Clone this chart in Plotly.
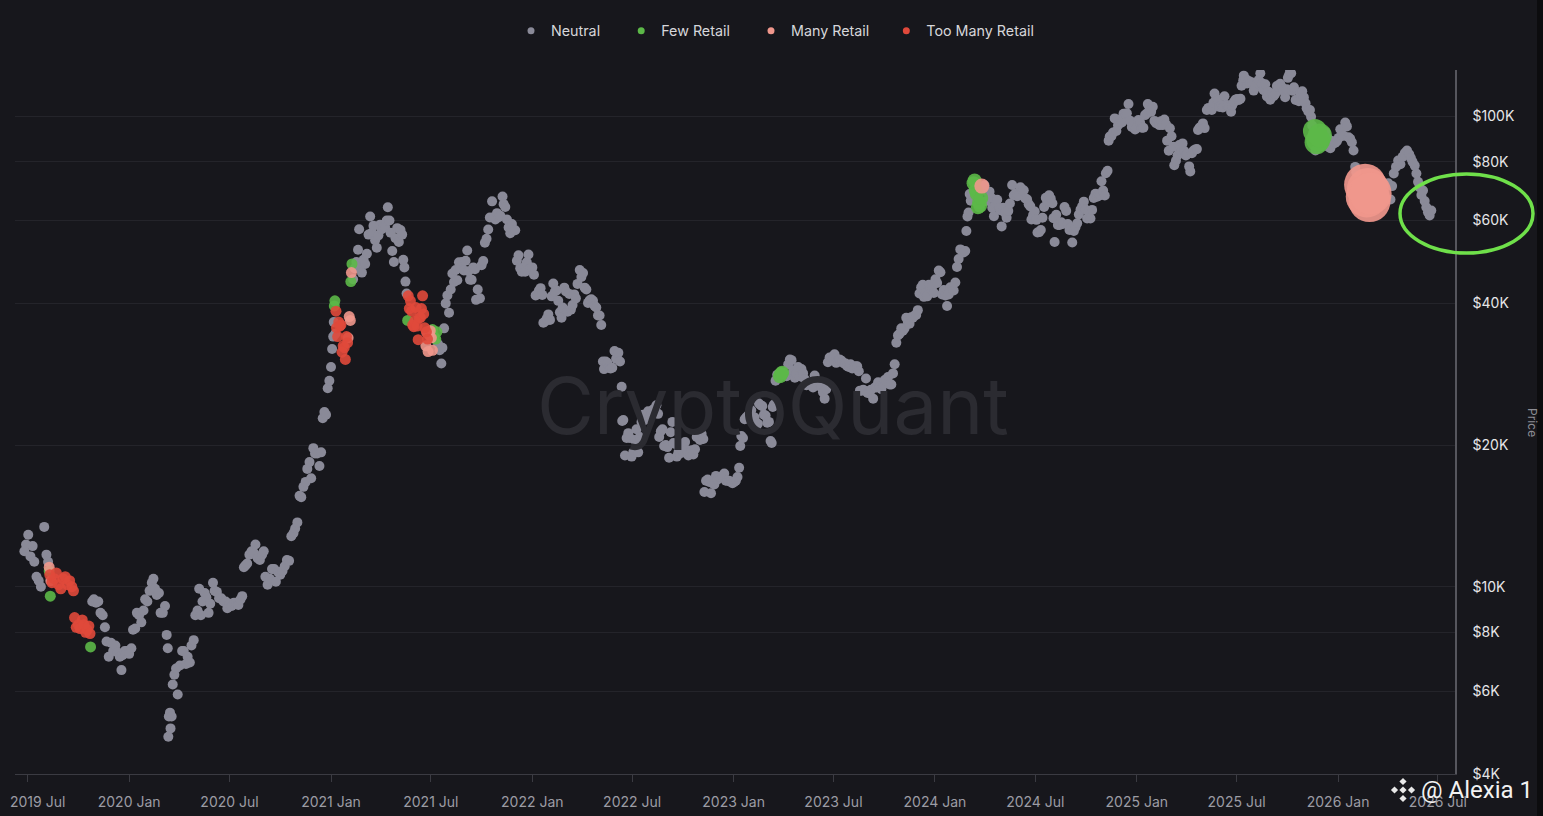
import plotly.graph_objects as go

# ---------------- data ----------------
neutral_points = [
    ("2019-06-25",11900),("2019-06-28",12300),("2019-07-02",12900),("2019-07-06",11600),("2019-07-10",12200),
    ("2019-07-13",11300),("2019-07-17",10500),("2019-07-21",10300),("2019-07-25",10000),("2019-07-31",13400),
    ("2019-08-04",11700),("2019-08-07",11300),
    ("2019-10-26",9300),("2019-10-29",9400),("2019-11-02",9250),("2019-11-06",9300),("2019-11-10",8800),
    ("2019-11-14",8700),("2019-11-18",8200),("2019-11-21",7650),("2019-11-25",7100),("2019-11-29",7600),
    ("2019-12-03",7300),("2019-12-07",7500),("2019-12-11",7250),("2019-12-15",7100),("2019-12-18",6650),
    ("2019-12-20",7150),("2019-12-24",7300),("2019-12-28",7300),
    ("2020-01-01",7200),("2020-01-05",7400),("2020-01-08",8100),("2020-01-12",8150),("2020-01-15",8800),
    ("2020-01-19",8700),("2020-01-23",8400),("2020-01-27",8900),("2020-01-30",9400),("2020-02-03",9300),
    ("2020-02-07",9800),("2020-02-11",10200),("2020-02-14",10400),("2020-02-17",9900),("2020-02-20",9600),
    ("2020-02-24",9700),("2020-02-27",8800),("2020-03-02",8800),("2020-03-06",9100),("2020-03-09",7900),
    ("2020-03-11",7400),("2020-03-12",4800),("2020-03-13",5300),("2020-03-15",5400),("2020-03-16",5000),
    ("2020-03-18",5300),("2020-03-20",6200),("2020-03-23",6500),("2020-03-26",6700),("2020-03-29",5900),
    ("2020-04-02",6800),("2020-04-06",7300),("2020-04-09",7300),("2020-04-13",6850),("2020-04-16",7100),
    ("2020-04-20",6900),("2020-04-23",7500),("2020-04-27",7700),("2020-04-30",8700),("2020-05-04",8900),
    ("2020-05-07",9900),("2020-05-10",8700),("2020-05-13",9300),("2020-05-17",9700),("2020-05-20",9500),
    ("2020-05-24",8800),("2020-05-27",9200),("2020-06-01",10200),("2020-06-04",9800),("2020-06-08",9750),
    ("2020-06-12",9450),("2020-06-16",9450),("2020-06-20",9300),("2020-06-24",9300),("2020-06-27",9000),
    ("2020-07-01",9200),("2020-07-05",9100),("2020-07-09",9250),("2020-07-13",9250),("2020-07-17",9150),
    ("2020-07-21",9400),("2020-07-24",9550),("2020-07-27",11000),("2020-07-30",11100),("2020-08-02",11200),
    ("2020-08-06",11700),("2020-08-10",11900),("2020-08-14",11800),("2020-08-17",12300),("2020-08-21",11500),
    ("2020-08-25",11400),("2020-08-29",11700),("2020-09-01",11900),("2020-09-04",10500),("2020-09-08",10100),
    ("2020-09-12",10400),("2020-09-16",10900),("2020-09-20",10900),("2020-09-23",10250),("2020-09-27",10750),
    ("2020-10-01",10600),("2020-10-05",10800),("2020-10-09",11050),("2020-10-13",11400),("2020-10-17",11350),
    ("2020-10-21",12800),("2020-10-25",13000),("2020-10-28",13300),("2020-11-01",13700),("2020-11-05",15600),
    ("2020-11-08",15500),("2020-11-12",16300),("2020-11-16",16700),("2020-11-19",17800),("2020-11-23",18400),
    ("2020-11-26",17000),("2020-11-30",19700),("2020-12-03",19200),("2020-12-07",19200),("2020-12-11",18050),
    ("2020-12-14",19300),("2020-12-17",22800),("2020-12-20",23500),("2020-12-23",23200),("2020-12-26",26400),
    ("2020-12-29",27400),("2021-01-01",29300),("2021-01-03",32000),("2021-01-05",34000),("2021-01-06",36500),
    ("2021-01-09",34500),
    ("2021-02-10",45000),("2021-02-13",47500),("2021-02-16",49000),("2021-02-19",52000),("2021-02-21",57500),
    ("2021-02-23",48500),("2021-02-26",46500),("2021-03-01",49500),("2021-03-04",48500),("2021-03-07",51000),
    ("2021-03-10",56000),("2021-03-13",61200),("2021-03-16",56500),("2021-03-19",58500),("2021-03-22",54500),
    ("2021-03-25",52500),("2021-03-28",55800),("2021-03-31",58800),("2021-04-03",57500),("2021-04-06",58100),
    ("2021-04-09",58100),("2021-04-12",60000),("2021-04-14",64000),("2021-04-17",60000),("2021-04-19",56500),
    ("2021-04-22",51700),("2021-04-25",49000),("2021-04-28",55000),("2021-05-01",57800),("2021-05-04",54000),
    ("2021-05-07",57300),("2021-05-10",56000),("2021-05-12",49500),("2021-05-14",47700),("2021-05-16",44500),
    ("2021-05-18",42000),
    ("2021-07-14",32800),("2021-07-17",31800),("2021-07-20",29800),("2021-07-22",32200),("2021-07-25",35400),
    ("2021-07-28",40000),("2021-07-31",41600),("2021-08-03",38200),("2021-08-06",42800),("2021-08-09",46300),
    ("2021-08-12",44400),("2021-08-15",47100),("2021-08-18",44800),("2021-08-21",48900),("2021-08-24",47700),
    ("2021-08-27",49000),("2021-08-30",47000),("2021-09-02",49300),("2021-09-05",51800),("2021-09-07",46800),
    ("2021-09-10",44900),("2021-09-13",44900),("2021-09-16",47700),("2021-09-19",47300),("2021-09-21",40700),
    ("2021-09-24",42800),("2021-09-28",41000),("2021-10-01",48200),("2021-10-04",49200),("2021-10-07",53800),
    ("2021-10-10",54900),("2021-10-13",57400),("2021-10-16",60900),("2021-10-20",65900),("2021-10-23",61000),
    ("2021-10-26",60300),("2021-10-29",62200),("2021-11-01",61000),("2021-11-04",61400),("2021-11-08",67500),
    ("2021-11-10",65000),("2021-11-13",64100),("2021-11-16",60300),("2021-11-19",58000),("2021-11-22",56400),
    ("2021-11-25",59000),("2021-11-28",57200),("2021-12-01",57200),("2021-12-04",49300),("2021-12-07",50600),
    ("2021-12-10",47500),("2021-12-13",46700),("2021-12-16",47600),("2021-12-19",46700),("2021-12-22",48900),
    ("2021-12-25",50800),("2021-12-28",47500),
    ("2022-01-01",47700),("2022-01-04",46000),("2022-01-07",41600),("2022-01-10",41800),("2022-01-13",42600),
    ("2022-01-16",43100),("2022-01-19",41700),("2022-01-21",36400),("2022-01-24",36600),("2022-01-27",37100),
    ("2022-01-30",37900),("2022-02-02",36900),("2022-02-05",41400),("2022-02-08",44100),("2022-02-11",42400),
    ("2022-02-14",42600),("2022-02-17",40500),("2022-02-20",38300),("2022-02-23",37300),("2022-02-25",39200),
    ("2022-02-28",43200),("2022-03-03",42400),("2022-03-06",38400),("2022-03-09",41900),("2022-03-12",38800),
    ("2022-03-15",39700),("2022-03-18",41800),("2022-03-21",41000),("2022-03-24",44000),("2022-03-28",47100),
    ("2022-03-31",45500),("2022-04-03",46400),("2022-04-06",43200),("2022-04-09",42800),("2022-04-12",40100),
    ("2022-04-15",40600),("2022-04-18",40800),("2022-04-21",40500),("2022-04-24",39500),("2022-04-27",39200),
    ("2022-04-30",37700),("2022-05-03",37700),("2022-05-06",36000),("2022-05-09",30100),("2022-05-11",29000),
    ("2022-05-14",30100),("2022-05-17",29900),("2022-05-20",29200),("2022-05-23",29100),("2022-05-26",29200),
    ("2022-05-30",31700),("2022-06-02",30500),("2022-06-06",31400),("2022-06-09",30100),("2022-06-12",26600),
    ("2022-06-13",22500),("2022-06-15",22600),("2022-06-18",19000),("2022-06-21",20700),("2022-06-24",21200),
    ("2022-06-27",20700),("2022-06-30",18900),("2022-07-03",19300),("2022-07-06",20500),("2022-07-09",21600),
    ("2022-07-12",19300),("2022-07-15",20800),("2022-07-18",22400),("2022-07-21",23200),("2022-07-24",22600),
    ("2022-07-27",22900),("2022-07-30",23600),("2022-08-02",23000),("2022-08-05",23300),("2022-08-08",23800),
    ("2022-08-11",23900),("2022-08-14",24300),("2022-08-17",23300),("2022-08-19",20800),("2022-08-22",21400),
    ("2022-08-25",21600),("2022-08-28",19900),("2022-08-31",20000),("2022-09-03",19800),("2022-09-06",18800),
    ("2022-09-09",21300),("2022-09-12",22400),("2022-09-14",20200),("2022-09-17",20100),("2022-09-20",18900),
    ("2022-09-23",19300),("2022-09-26",19200),("2022-09-29",19600),("2022-10-02",19300),("2022-10-05",20300),
    ("2022-10-08",19500),("2022-10-11",19000),("2022-10-14",19200),("2022-10-17",19500),("2022-10-20",19100),
    ("2022-10-23",19600),("2022-10-26",20800),("2022-10-29",20800),("2022-11-01",20500),("2022-11-04",21100),
    ("2022-11-07",20600),("2022-11-09",15900),("2022-11-12",16800),("2022-11-15",16900),("2022-11-18",16700),
    ("2022-11-21",15800),("2022-11-24",16600),("2022-11-27",16500),("2022-11-30",17200),("2022-12-03",16900),
    ("2022-12-06",17100),("2022-12-09",17100),("2022-12-12",17200),("2022-12-15",17400),("2022-12-18",16800),
    ("2022-12-21",16800),("2022-12-24",16800),("2022-12-27",16700),("2022-12-30",16600),
    ("2023-01-02",16700),("2023-01-05",16800),("2023-01-08",17100),("2023-01-11",17900),("2023-01-13",19900),
    ("2023-01-15",20900),("2023-01-18",20700),("2023-01-21",22700),("2023-01-24",22900),("2023-01-27",23100),
    ("2023-01-30",22800),("2023-02-02",23700),("2023-02-05",22900),("2023-02-08",22900),("2023-02-11",21900),
    ("2023-02-14",22200),("2023-02-16",24500),("2023-02-19",24300),("2023-02-22",24200),("2023-02-25",23200),
    ("2023-02-28",23100),("2023-03-03",22300),("2023-03-06",22400),("2023-03-09",20400),("2023-03-11",20200),
    ("2023-03-13",24100),("2023-03-15",24400),("2023-03-18",27400),("2023-03-21",28200),("2023-03-24",27800),
    ("2023-04-01",28500),("2023-04-04",28200),("2023-04-07",28000),("2023-04-10",29700),("2023-04-13",30400),
    ("2023-04-16",30300),("2023-04-19",28800),("2023-04-22",27800),("2023-04-25",28300),("2023-04-28",29300),
    ("2023-05-01",28000),("2023-05-04",29000),("2023-05-07",28400),("2023-05-10",27600),("2023-05-13",26800),
    ("2023-05-16",27000),("2023-05-19",26900),("2023-05-22",26800),("2023-05-25",26500),("2023-05-28",28100),
    ("2023-05-31",27200),("2023-06-03",27200),("2023-06-06",27200),("2023-06-09",26500),("2023-06-12",25900),
    ("2023-06-15",25100),("2023-06-18",26300),("2023-06-21",30000),("2023-06-24",30700),("2023-06-27",30700),
    ("2023-06-30",30500),("2023-07-03",31200),("2023-07-06",29900),("2023-07-09",30200),("2023-07-12",30400),
    ("2023-07-14",30300),("2023-07-17",30100),("2023-07-20",29800),("2023-07-23",29800),("2023-07-26",29400),
    ("2023-07-29",29300),("2023-08-01",29700),("2023-08-04",29100),("2023-08-07",29200),("2023-08-10",29400),
    ("2023-08-13",29400),("2023-08-16",28700),("2023-08-18",26100),("2023-08-21",26100),("2023-08-24",26200),
    ("2023-08-27",26100),("2023-08-29",27700),("2023-09-01",25800),("2023-09-04",25800),("2023-09-07",26200),
    ("2023-09-11",25100),("2023-09-14",26500),("2023-09-17",26500),("2023-09-20",27200),("2023-09-23",26600),
    ("2023-09-26",26300),("2023-09-29",26900),("2023-10-02",27500),("2023-10-05",27400),("2023-10-08",27900),
    ("2023-10-11",26900),("2023-10-14",26900),("2023-10-17",28400),("2023-10-20",29700),("2023-10-23",33000),
    ("2023-10-26",34200),("2023-10-29",34500),("2023-11-01",35400),("2023-11-04",35000),("2023-11-07",35400),
    ("2023-11-10",37300),("2023-11-13",36500),("2023-11-16",36200),("2023-11-19",37400),("2023-11-22",37300),
    ("2023-11-25",37700),("2023-11-28",37800),("2023-12-01",38700),("2023-12-04",42000),("2023-12-07",43300),
    ("2023-12-10",43800),("2023-12-12",41300),("2023-12-15",42000),("2023-12-18",41400),("2023-12-21",43800),
    ("2023-12-24",43000),("2023-12-27",43400),("2023-12-30",42100),
    ("2024-01-02",45000),("2024-01-05",44200),("2024-01-08",47000),("2024-01-11",46600),("2024-01-14",41800),
    ("2024-01-17",42700),("2024-01-20",41600),("2024-01-23",39500),("2024-01-26",41800),("2024-01-29",43300),
    ("2024-02-01",43100),("2024-02-04",42600),("2024-02-07",44300),("2024-02-10",47800),("2024-02-13",49700),
    ("2024-02-16",52100),("2024-02-19",51800),("2024-02-22",51300),("2024-02-25",51700),("2024-02-27",57000),
    ("2024-02-29",61200),("2024-03-02",62400),("2024-03-04",68300),("2024-03-06",66100),("2024-03-08",68300),
    ("2024-03-28",70800),("2024-03-31",71300),("2024-04-03",66000),("2024-04-06",68900),("2024-04-09",69100),
    ("2024-04-12",67100),("2024-04-14",63900),("2024-04-17",61300),("2024-04-20",64900),("2024-04-23",66400),
    ("2024-04-26",63800),("2024-04-29",63100),("2024-05-01",58300),("2024-05-04",63900),("2024-05-07",62300),
    ("2024-05-10",60800),("2024-05-13",62900),("2024-05-16",65200),("2024-05-20",71400),("2024-05-23",67900),
    ("2024-05-26",68500),("2024-05-29",67600),("2024-06-01",67800),("2024-06-04",70600),("2024-06-07",69300),
    ("2024-06-10",69600),("2024-06-13",66800),("2024-06-16",66600),("2024-06-19",65000),("2024-06-22",64300),
    ("2024-06-24",60300),("2024-06-27",61600),("2024-06-30",62700),("2024-07-03",60200),("2024-07-05",56600),
    ("2024-07-08",56700),("2024-07-11",57300),("2024-07-14",60800),("2024-07-17",64100),("2024-07-20",67100),
    ("2024-07-23",65900),("2024-07-26",67900),("2024-07-29",66800),("2024-08-01",65300),("2024-08-03",60700),
    ("2024-08-05",54000),("2024-08-08",61700),("2024-08-11",58700),("2024-08-14",58700),("2024-08-17",59500),
    ("2024-08-20",59000),("2024-08-23",64100),("2024-08-26",62900),("2024-08-29",59000),("2024-09-01",57300),
    ("2024-09-04",58000),("2024-09-06",53900),("2024-09-09",57000),("2024-09-12",58100),("2024-09-15",59200),
    ("2024-09-18",61800),("2024-09-21",63300),("2024-09-24",64300),("2024-09-27",65800),("2024-09-30",63300),
    ("2024-10-03",60600),("2024-10-06",62800),("2024-10-09",60600),("2024-10-12",63200),("2024-10-15",67000),
    ("2024-10-18",68400),("2024-10-21",67400),("2024-10-24",68200),("2024-10-27",67900),("2024-10-29",72700),
    ("2024-11-01",69500),("2024-11-04",67800),("2024-11-06",75600),("2024-11-09",76500),("2024-11-11",88700),
    ("2024-11-13",90500),("2024-11-16",90600),("2024-11-19",92300),("2024-11-22",98900),("2024-11-25",93000),
    ("2024-11-28",95600),("2024-12-01",97200),("2024-12-04",98700),("2024-12-05",96900),("2024-12-08",101200),
    ("2024-12-11",101100),("2024-12-14",101400),("2024-12-17",106100),("2024-12-20",97800),("2024-12-23",94800),
    ("2024-12-26",95800),("2024-12-29",93700),
    ("2025-01-01",94400),("2025-01-04",98100),("2025-01-07",96900),("2025-01-10",94500),("2025-01-13",94500),
    ("2025-01-16",100500),("2025-01-19",101300),("2025-01-21",106100),("2025-01-24",104700),("2025-01-27",102100),
    ("2025-01-30",104700),("2025-02-02",97700),("2025-02-05",96600),("2025-02-08",96500),("2025-02-11",95700),
    ("2025-02-14",97500),("2025-02-17",95700),("2025-02-20",98300),("2025-02-23",96100),("2025-02-25",88700),
    ("2025-02-28",84400),("2025-03-02",94200),("2025-03-05",90600),("2025-03-08",86100),("2025-03-10",78600),
    ("2025-03-13",80400),("2025-03-16",82600),("2025-03-19",86800),("2025-03-22",84000),("2025-03-25",87500),
    ("2025-03-28",84300),("2025-03-31",82500),("2025-04-03",83100),("2025-04-06",78200),("2025-04-08",76300),
    ("2025-04-11",83400),("2025-04-14",84500),("2025-04-17",84900),("2025-04-20",85100),("2025-04-22",93400),
    ("2025-04-25",94600),("2025-04-28",95000),("2025-05-01",96500),("2025-05-04",94300),("2025-05-08",103000),
    ("2025-05-11",104100),("2025-05-14",103500),("2025-05-17",103100),("2025-05-20",106800),("2025-05-22",111700),
    ("2025-05-25",109000),("2025-05-28",107800),("2025-05-31",104600),("2025-06-03",105400),("2025-06-06",104300),
    ("2025-06-09",110200),("2025-06-12",105600),("2025-06-15",105500),("2025-06-18",104800),("2025-06-21",102200),
    ("2025-06-23",105400),("2025-06-26",107100),("2025-06-29",108400),("2025-07-02",108800),("2025-07-05",108200),
    ("2025-07-08",108900),("2025-07-10",116000),("2025-07-13",119100),("2025-07-14",121900),("2025-07-17",120100),
    ("2025-07-20",117300),("2025-07-23",118800),("2025-07-26",117600),("2025-07-29",117900),("2025-08-01",113300),
    ("2025-08-04",115000),("2025-08-07",117500),("2025-08-10",119300),("2025-08-13",123300),("2025-08-16",117400),
    ("2025-08-19",113500),("2025-08-22",116900),("2025-08-25",110100),("2025-08-28",112600),("2025-08-31",108300),
    ("2025-09-03",111700),("2025-09-06",110200),("2025-09-09",111500),("2025-09-12",115900),("2025-09-15",115400),
    ("2025-09-18",117100),("2025-09-21",115300),("2025-09-24",113300),("2025-09-27",109700),("2025-09-30",114000),
    ("2025-10-02",120600),("2025-10-04",122300),("2025-10-06",124700),("2025-10-08",123300),("2025-10-10",113200),
    ("2025-10-13",115200),("2025-10-16",108200),("2025-10-19",108600),("2025-10-22",107600),("2025-10-25",111600),
    ("2025-10-28",112900),("2025-10-31",109600),("2025-11-03",106500),("2025-11-05",103900),("2025-11-08",102300),
    ("2025-11-11",103000),("2025-11-13",99700),("2025-11-15",95500),("2025-11-18",92900),("2025-11-21",84500),
    ("2025-11-24",87500),("2025-12-01",86500),("2025-12-03",93000),("2025-12-06",89500),("2025-12-09",92500),
    ("2025-12-12",90200),("2025-12-15",86000),("2025-12-18",85500),("2025-12-21",88500),("2025-12-24",87500),
    ("2025-12-27",87800),("2025-12-30",88500),
    ("2026-01-02",89900),("2026-01-05",93800),("2026-01-08",91000),("2026-01-11",90800),("2026-01-14",96900),
    ("2026-01-17",95100),("2026-01-20",90200),("2026-01-23",89500),("2026-01-26",88000),("2026-01-29",84500),
    ("2026-02-01",78000),("2026-02-03",76000),
    ("2026-03-10",67000),("2026-03-18",70000),("2026-03-26",68500),("2026-04-02",72000),("2026-04-06",66500),
    ("2026-04-09",71000),("2026-04-12",75500),("2026-04-16",78000),("2026-04-20",80500),("2026-04-24",79000),
    ("2026-04-28",82000),("2026-05-02",83500),("2026-05-06",84500),("2026-05-10",83000),("2026-05-13",81500),
    ("2026-05-16",80000),("2026-05-20",78500),("2026-05-23",75500),("2026-05-26",72500),("2026-05-29",70500),
    ("2026-06-01",68000),("2026-06-04",69500),("2026-06-07",66000),("2026-06-10",64000),("2026-06-13",62500),
    ("2026-06-16",61500),("2026-06-19",63000),
]

few_points = [
    ("2019-08-09",10800),("2019-08-11",9550),("2019-10-23",7450),
    ("2021-01-07",39500),("2021-01-08",40500),("2021-02-06",44500),("2021-02-08",48500),
    ("2021-05-20",36800),("2021-07-04",35200),("2021-07-07",34000),("2021-07-10",33600),("2021-07-12",34800),
]
few_mid_points = [
    ("2023-03-26",28000),("2023-03-28",28300),("2023-03-30",28500),
    ("2024-03-11",72000),("2024-03-13",73000),("2024-03-15",69500),("2024-03-17",68300),
    ("2024-03-19",64000),("2024-03-21",65500),("2024-03-23",64500),("2024-03-25",67000),
    ("2026-02-07",70000),("2026-03-09",69500),
]
few_big_points = [
    ("2025-11-20",93000),("2025-11-23",88000),("2025-11-26",89000),("2025-11-29",91000),
]

many_points = [
    ("2019-08-09",11000),("2019-08-12",10300),
    ("2021-02-01",33800),("2021-02-03",37500),("2021-02-05",36800),("2021-02-07",46500),
    ("2021-06-22",32500),("2021-06-24",34700),("2021-06-26",31600),("2021-06-28",34300),
    ("2021-06-30",35000),("2021-07-02",33800),("2021-07-04",31800),
]
many_mid_points = [("2024-03-26",71000)]
many_big_points = [
    ("2026-02-19",71500),("2026-02-22",67500),("2026-02-24",70000),("2026-02-27",66000),("2026-03-01",68500),
]

toomany_points = [
    ("2019-08-14",10200),("2019-08-18",10400),("2019-08-22",10700),("2019-08-26",10100),("2019-08-30",9900),
    ("2019-09-03",10400),("2019-09-07",10500),("2019-09-11",10100),("2019-09-15",10300),("2019-09-19",10000),
    ("2019-09-22",9800),("2019-08-10",10600),
    ("2019-09-24",8600),("2019-09-27",8200),("2019-10-01",8300),("2019-10-04",8150),("2019-10-08",8500),
    ("2019-10-11",8300),("2019-10-14",8000),("2019-10-17",8100),("2019-10-20",8250),("2019-10-22",7950),
    ("2021-01-10",38500),("2021-01-11",35500),("2021-01-13",34000),("2021-01-15",36500),("2021-01-17",35800),
    ("2021-01-19",36000),("2021-01-21",31500),("2021-01-23",32500),("2021-01-25",32200),("2021-01-27",30400),
    ("2021-01-29",34000),("2021-01-31",33000),
    ("2021-05-21",41500),("2021-05-23",39000),("2021-05-25",40500),("2021-05-27",38500),
    ("2021-05-29",36000),("2021-05-31",35700),("2021-06-02",36700),("2021-06-04",39200),
    ("2021-06-06",35800),("2021-06-08",33500),("2021-06-10",37300),("2021-06-12",37300),("2021-06-14",39000),
    ("2021-06-16",41500),("2021-06-18",38000),("2021-06-20",35500),("2021-06-23",34800),("2021-06-25",33600),
]

legend_names = ["Neutral", "Few Retail", "Many Retail", "Too Many Retail"]
y_tick_values = [4000, 6000, 8000, 10000, 20000, 40000, 60000, 80000, 100000]
y_tick_labels = ["$4K", "$6K", "$8K", "$10K", "$20K", "$40K", "$60K", "$80K", "$100K"]
x_tick_values = ["2019-07-01","2020-01-01","2020-07-01","2021-01-01","2021-07-01","2022-01-01","2022-07-01",
                 "2023-01-01","2023-07-01","2024-01-01","2024-07-01","2025-01-01","2025-07-01","2026-01-01","2026-07-01"]
x_tick_labels = ["2019 Jul","2020 Jan","2020 Jul","2021 Jan","2021 Jul","2022 Jan","2022 Jul",
                 "2023 Jan","2023 Jul","2024 Jan","2024 Jul","2025 Jan","2025 Jul","2026 Jan","2026 Jul"]

# ---------------- style ----------------
BG = "#17171c"
C_NEUTRAL = "#8a8a98"
C_FEW = "#5cb848"
C_MANY = "#f0978c"
C_TOOMANY = "#e0493b"
FONT = "Inter"
NBSP = "\u00a0"

W, H = 1543, 816
ML, MR, MT, MB = 15, 88, 70, 42
PW, PH = W - ML - MR, H - MT - MB


def px(x):
    return (x - ML) / PW


def py(y):
    return (H - MB - y) / PH


def split(points):
    return [p[0] for p in points], [p[1] for p in points]


fig = go.Figure()

layers = [
    (neutral_points, C_NEUTRAL, 10, 1.0, "neutral"),
    (few_points, C_FEW, 11, 0.9, "few"),
    (few_mid_points, C_FEW, 14, 0.9, "few"),
    (few_big_points, C_FEW, 24, 0.9, "few"),
    (many_points, C_MANY, 11, 0.9, "many"),
    (many_mid_points, C_MANY, 15, 0.9, "many"),
    (many_big_points, C_MANY, 42, 0.92, "many"),
    (toomany_points, C_TOOMANY, 11, 0.9, "toomany"),
]
for pts, col, size, op, grp in layers:
    xs, ys = split(pts)
    fig.add_trace(go.Scatter(x=xs, y=ys, mode="markers", showlegend=False, legendgroup=grp,
                             marker=dict(color=col, size=size, opacity=op, line=dict(width=0)),
                             hoverinfo="skip"))

legend_colors = [C_NEUTRAL, C_FEW, C_MANY, C_TOOMANY]
legend_groups = ["neutral", "few", "many", "toomany"]
legend_pad = [4, 4, 3, 0]
for name, col, grp, pad in zip(legend_names, legend_colors, legend_groups, legend_pad):
    fig.add_trace(go.Scatter(x=[None], y=[None], mode="markers", name=name + NBSP * pad, legendgroup=grp,
                             marker=dict(color=col, size=7)))

# first tick label is drawn as an annotation (nudged right, as in the reference)
x_tick_text = [""] + x_tick_labels[1:]

shapes = []
# green highlight ellipse
shapes.append(dict(type="circle", xref="paper", yref="paper",
                   x0=px(1400), x1=px(1533), y0=py(253), y1=py(174),
                   line=dict(color="#6fe04a", width=3.5), layer="above"))
# binance-like logo (small diamonds)
cx, cy, r, d = 1403, 790, 3.6, 8.5
for ox, oy in [(0, 0), (d, 0), (-d, 0), (0, d), (0, -d)]:
    xx, yy = cx + ox, cy + oy
    path = "M {} {} L {} {} L {} {} L {} {} Z".format(px(xx), py(yy - r), px(xx + r), py(yy),
                                                       px(xx), py(yy + r), px(xx - r), py(yy))
    shapes.append(dict(type="path", xref="paper", yref="paper", path=path,
                       fillcolor="#e8e8e8", line=dict(width=0), layer="above"))
# dark strip at right edge
shapes.append(dict(type="rect", xref="paper", yref="paper", x0=px(1537), x1=px(1545), y0=py(818), y1=py(-2),
                   fillcolor="#0c0c0e", line=dict(width=0), layer="below"))

annotations = [
    dict(text="CryptoQuant", x=px(773), y=py(405), xref="paper", yref="paper", showarrow=False,
         xanchor="center", yanchor="middle", font=dict(family=FONT, size=78, color="#2b2b31")),
    dict(text="@ Alexia 1", x=px(1419), y=py(790), xref="paper", yref="paper", showarrow=False,
         xanchor="left", yanchor="middle", font=dict(family="Roboto", size=24, color="#f2f2f2")),
    dict(text="Price", x=px(1533), y=py(422), xref="paper", yref="paper", showarrow=False, textangle=90,
         xanchor="center", yanchor="middle", font=dict(family=FONT, size=12, color="#8c8c94")),
    dict(text=x_tick_labels[0], x=px(8), y=py(801), xref="paper", yref="paper", showarrow=False,
         xanchor="left", yanchor="middle", font=dict(family=FONT, size=14, color="#9c9ca4")),
]

fig.update_layout(
    width=W, height=H,
    margin=dict(l=ML, r=MR, t=MT, b=MB, pad=0, autoexpand=False),
    paper_bgcolor=BG, plot_bgcolor=BG,
    font=dict(family=FONT, color="#d6d6da", size=14),
    showlegend=True,
    legend=dict(orientation="h", x=px(775), xanchor="center", y=py(31), yanchor="middle",
                font=dict(family=FONT, size=14.3, color="#d6d6da"), bgcolor="rgba(0,0,0,0)",
                itemsizing="trace"),
    shapes=shapes,
    annotations=annotations,
    xaxis=dict(type="date", range=["2019-06-08", "2026-08-01"], tickvals=x_tick_values, ticktext=x_tick_text,
               showgrid=False, zeroline=False, showline=True, linecolor="#3b3b42", linewidth=1,
               ticks="outside", ticklen=7, tickcolor="#3b3b42", ticklabelstandoff=8,
               ticklabeloverflow="allow", automargin=False,
               tickfont=dict(family=FONT, size=14, color="#9c9ca4")),
    yaxis=dict(type="log", side="right", range=[3.60206, 5.098], tickvals=y_tick_values, ticktext=y_tick_labels,
               showgrid=True, gridcolor="#24242a", gridwidth=1, zeroline=False,
               showline=True, linecolor="#56565d", linewidth=1.5, automargin=False,
               ticks="outside", ticklen=13, tickcolor=BG,
               tickfont=dict(family=FONT, size=14, color="#e6e6e8")),
)

fig.write_html("out.html", config={"displayModeBar": False},
               post_script="document.body.style.margin='0px';document.body.style.backgroundColor='#17171c';")
